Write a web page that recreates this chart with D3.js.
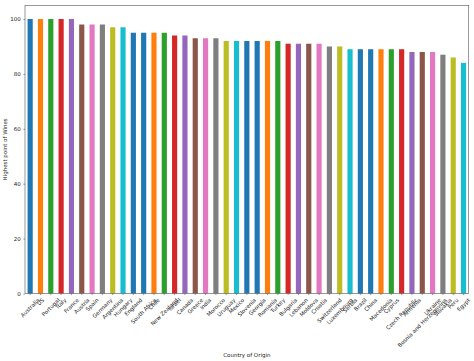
<!DOCTYPE html>
<html>
<head>
<meta charset="utf-8">
<script src="https://cdn.jsdelivr.net/npm/d3@7"></script>
<style>
  html, body { margin: 0; padding: 0; background: #fff; }
  svg { display: block; }
  text { font-family: "DejaVu Sans", sans-serif; }
</style>
</head>
<body>
<svg id="chart" width="474" height="361"></svg>
<script>
const countries = ["Australia","US","Portugal","Italy","France","Austria","Spain","Germany","Argentina","Hungary",
  "England","South Africa","Chile","New Zealand","Israel","Canada","Greece","India","Morocco","Uruguay",
  "Mexico","Slovenia","Georgia","Romania","Turkey","Bulgaria","Lebanon","Moldova","Croatia","Switzerland",
  "Luxembourg","Serbia","Brazil","China","Macedonia","Cyprus","Czech Republic","Armenia","Bosnia and Herzegovina","Ukraine",
  "Slovakia","Peru","Egypt"];
const maxPoints = [100,100,100,100,100,98,98,98,97,97,
  95,95,95,95,94,94,93,93,93,92,
  92,92,92,92,92,91,91,91,91,90,
  90,89,89,89,89,89,89,88,88,88,
  87,86,84];
const yTicks = [0,20,40,60,80,100];
const palette = ["#1f77b4","#ff7f0e","#2ca02c","#d62728","#9467bd","#8c564b","#e377c2","#7f7f7f","#bcbd22","#17becf","#1f77b4"];
const xLabel = "Country of Origin";
const yLabel = "Highest point of Wines";

const svg = d3.select("#chart");
const mLeft = 25, mRight = 468.7, mTop = 5.3, mBottom = 293.5;
const fs = 5.5;

const x = d3.scaleBand().domain(countries).range([mLeft, mRight]).paddingInner(0.5).paddingOuter(0.25);
const y = d3.scaleLinear().domain([0, 105]).range([mBottom, mTop]);

svg.append("g").selectAll("rect").data(countries).join("rect")
  .attr("x", d => x(d))
  .attr("width", x.bandwidth())
  .attr("y", (d, i) => y(maxPoints[i]))
  .attr("height", (d, i) => y(0) - y(maxPoints[i]))
  .attr("fill", (d, i) => palette[i % palette.length]);

// frame
svg.append("rect").attr("x", mLeft).attr("y", mTop).attr("width", mRight - mLeft).attr("height", mBottom - mTop)
  .attr("fill", "none").attr("stroke", "#555").attr("stroke-width", 0.6);

// y axis
const yAxis = d3.axisLeft(y).tickValues(yTicks).tickSize(1.6).tickPadding(2.6);
const gy = svg.append("g").attr("transform", `translate(${mLeft},0)`).call(yAxis);
gy.select(".domain").remove();
gy.selectAll(".tick line").attr("stroke", "#555").attr("stroke-width", 0.6);
gy.selectAll(".tick text").attr("font-size", fs).attr("fill", "#222").attr("font-family", "DejaVu Sans");

// x axis
const xAxis = d3.axisBottom(x).tickSize(1.6).tickFormat("");
const gx = svg.append("g").attr("transform", `translate(0,${mBottom})`).call(xAxis);
gx.select(".domain").remove();
gx.selectAll(".tick line").attr("stroke", "#555").attr("stroke-width", 0.6);

// rotated x tick labels (matplotlib rotation=45, ha=center)
const h = fs * 1.16;
const labelTop = mBottom + 3.4;
const lg = svg.append("g");
countries.forEach(c => {
  const t = lg.append("text").text(c).attr("font-size", fs).attr("fill", "#222")
    .attr("text-anchor", "middle").attr("dy", "0.35em");
  const L = t.node().getComputedTextLength();
  const side = (L + h) / Math.SQRT2;
  const cx = x(c) + x.bandwidth() / 2;
  const cy = labelTop + side / 2;
  t.attr("transform", `translate(${cx},${cy}) rotate(-45)`);
});

// axis labels
svg.append("text").text(xLabel).attr("x", (mLeft + mRight) / 2).attr("y", 357)
  .attr("text-anchor", "middle").attr("font-size", fs).attr("fill", "#222");
svg.append("text").text(yLabel)
  .attr("transform", `translate(7,${(mTop + mBottom) / 2}) rotate(-90)`)
  .attr("text-anchor", "middle").attr("font-size", fs).attr("fill", "#222");
</script>
</body>
</html>
